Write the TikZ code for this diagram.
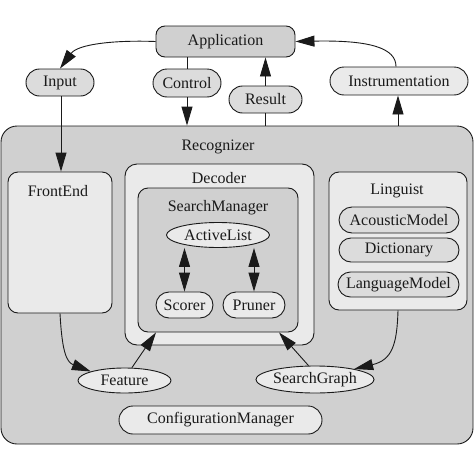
\documentclass[tikz,border=0pt]{standalone}
\usepackage{fontspec}
\setmainfont{Liberation Serif}
\usetikzlibrary{arrows.meta,shapes.misc,shapes.geometric,calc}
\definecolor{bgdark}{HTML}{D0D0D0}
\definecolor{bglight}{HTML}{EAEAEA}
\definecolor{bgmid}{HTML}{DCDCDC}
\definecolor{ink}{HTML}{1A1A1A}
\begin{document}
\begin{tikzpicture}[x=1pt,y=-1pt,
  every node/.style={font=\fontsize{16}{19}\selectfont, text=ink, inner sep=0pt},
  box/.style={draw=ink, line width=0.9pt, rounded corners=#1, rectangle},
  pill/.style={draw=ink, line width=0.9pt, rounded rectangle},
  oval/.style={draw=ink, line width=0.9pt, ellipse},
  conn/.style={draw=ink, line width=0.9pt},
  arr/.style={conn, -{Triangle[length=19pt,width=11pt]}},
  darr/.style={conn, {Triangle[length=19pt,width=11pt]}-{Triangle[length=19pt,width=11pt]}},
]
\useasboundingbox (0,0) rectangle (474,474);
\fill[white] (0,0) rectangle (474,474);

% Recognizer cluster
\node[box=16pt, fill=bgdark, minimum width=472pt, minimum height=318pt] (rec) at (237,285) {};
\node (rect) at (218,147) {Recognizer};

% FrontEnd
\node[box=10pt, fill=bglight, minimum width=104pt, minimum height=141pt] (fe) at (60,242.5) {};
\node (fet) at (58,191) {FrontEnd};

% Decoder
\node[box=12pt, fill=bglight, minimum width=189pt, minimum height=181pt] (dec) at (219.5,254.5) {};
\node (dect) at (219,178) {Decoder};
\node[box=10pt, fill=bgdark, minimum width=160pt, minimum height=144pt] (sm) at (218,260) {};
\node (smt) at (218,208) {SearchManager};
\node[oval, fill=bglight, minimum width=103pt, minimum height=25pt] (al) at (218,235) {ActiveList};
\node[pill, fill=bglight, minimum width=57pt, minimum height=26pt] (sc) at (184.5,305) {Scorer};
\node[pill, fill=bglight, minimum width=62pt, minimum height=26pt] (pr) at (254,305) {Pruner};

% Linguist
\node[box=10pt, fill=bglight, minimum width=138pt, minimum height=138pt] (ling) at (398,241) {};
\node (lingt) at (397,191) {Linguist};
\node[pill, fill=bgmid, minimum width=120pt, minimum height=26pt] (am) at (399,220) {AcousticModel};
\node[pill, fill=bgmid, minimum width=120pt, minimum height=24pt] (dic) at (399,250) {Dictionary};
\node[pill, fill=bgmid, minimum width=121pt, minimum height=25pt] (lm) at (398.5,284.5) {LanguageModel};

% bottom nodes
\node[oval, fill=bglight, minimum width=93pt, minimum height=25pt] (feat) at (124.5,380.5) {Feature};
\node[oval, fill=bglight, minimum width=116pt, minimum height=27pt] (sg) at (315,379.5) {SearchGraph};
\node[pill, fill=bglight, minimum width=203pt, minimum height=28pt] (cm) at (220.5,420) {ConfigurationManager};

% top nodes
\node[box=9pt, fill=bgdark, minimum width=139pt, minimum height=31pt] (app) at (225.5,41.5) {Application};
\node[pill, fill=bgmid, minimum width=68pt, minimum height=27pt] (inp) at (60,82.5) {Input};
\node[pill, fill=bgmid, minimum width=68pt, minimum height=28pt] (ctl) at (187,83) {Control};
\node[pill, fill=bgmid, minimum width=73pt, minimum height=27pt] (res) at (265.5,99.5) {Result};
\node[pill, fill=bglight, minimum width=138pt, minimum height=28pt] (ins) at (399,81) {Instrumentation};

% connectors
\draw[arr] (app.west) .. controls (115,40) and (78,44) .. (inp.north);
\draw[conn] (ctl.north) -- (ctl.north |- app.south);
\draw[arr] (ctl.south) -- (ctl.south |- rec.north);
\draw[conn] (res.south) -- (res.south |- rec.north);
\draw[arr] (res.north) -- (res.north |- app.south);
\draw[arr] ([xshift=-1pt]ins.south |- rec.north) -- ([xshift=-1pt]ins.south);
\draw[arr] ([xshift=-3pt]ins.north) .. controls (396,48) and (370,40) .. (app.east);
\draw[arr] ([xshift=1pt]inp.south) -- ([xshift=1pt]inp.south |- fe.north);
\draw[arr] (fe.south) .. controls (62,350) and (66,362) .. (feat.165);
\coordinate (smin1) at ([xshift=-62pt]sm.south);
\coordinate (smin2) at ([xshift=61pt]sm.south);
\draw[arr] (feat.60) -- (smin1);
\draw[arr] (sg.115) -- (smin2);
\draw[arr] (ling.south) .. controls (397,345) and (392,360) .. (sg.15);
\draw[darr] (sc.north) -- (sc.north |- al.south);
\draw[darr] (pr.north) -- (pr.north |- al.south);
\end{tikzpicture}
\end{document}
